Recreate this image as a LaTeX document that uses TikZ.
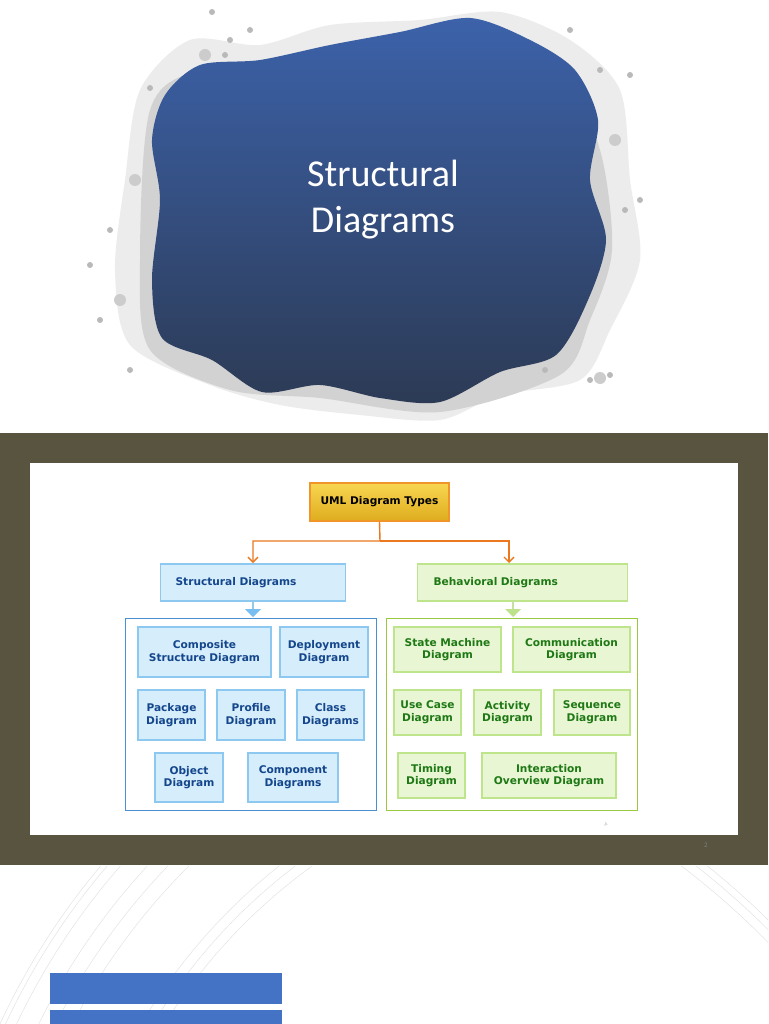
\documentclass[tikz,border=0pt]{standalone}
\usepackage{fontspec}
\usetikzlibrary{arrows.meta}
\setmainfont{DejaVu Sans}
\newfontfamily\titlefont{Carlito}
\begin{document}
\begin{tikzpicture}[x=1pt,y=-1pt,
  sbox/.style={draw={rgb,255:red,140;green,200;blue,240},fill={rgb,255:red,214;green,237;blue,252},line width=1.2pt,align=center,font=\bfseries\fontsize{10.6}{12.6}\selectfont,text={rgb,255:red,20;green,70;blue,140},inner sep=0pt},
  gbox/.style={draw={rgb,255:red,190;green,228;blue,140},fill={rgb,255:red,232;green,246;blue,212},line width=1.2pt,align=center,font=\bfseries\fontsize{10.6}{12.6}\selectfont,text={rgb,255:red,30;green,120;blue,20},inner sep=0pt},
  oarr/.style={draw={rgb,255:red,235;green,120;blue,30},line width=1.4pt,-{Straight Barb[length=5pt,width=10pt]}}]
\useasboundingbox (0,0) rectangle (768,1024);
\fill[white] (0,0) rectangle (768,1024);
% splatter
\fill[gray!15] plot[smooth cycle] coordinates{(140,90)(190,40)(260,45)(330,25)(420,20)(500,12)(570,40)(620,90)(630,180)(640,260)(610,330)(580,380)(500,395)(440,420)(360,415)(280,405)(210,385)(130,345)(115,270)(125,180)};
\fill[gray!35] plot[smooth cycle] coordinates{(150,110)(200,70)(330,55)(470,30)(560,70)(600,150)(612,250)(590,320)(560,375)(440,412)(320,398)(230,390)(150,350)(140,260)};
\foreach \p in {(150,88),(230,40),(225,55),(600,70),(630,75),(90,265),(110,230),(625,210),(590,380),(610,375),(100,320),(640,200),(130,370),(570,30),(212,12),(250,30),(545,370)} \fill[gray!55] \p circle (3);
\foreach \p in {(205,55),(120,300),(615,140),(135,180),(600,378)} \fill[gray!40] \p circle (6);
\shade[top color={rgb,255:red,60;green,98;blue,170},bottom color={rgb,255:red,44;green,58;blue,84}]
 plot[smooth cycle] coordinates{(165,95)(200,65)(260,60)(330,45)(400,32)(470,18)(530,40)(575,70)(598,120)(590,180)(606,240)(588,300)(556,355)(500,372)(440,402)(380,398)(320,385)(262,392)(212,360)(162,338)(152,280)(160,200)(152,140)};
\node[font=\titlefont\fontsize{38}{46}\selectfont,text=white,align=center] (title) at (383,200) {Structural\\Diagrams};
% band
\fill[fill={rgb,255:red,88;green,84;blue,64}] (0,433) rectangle (768,865);
\fill[white] (30,463) rectangle (738,835);
\node[font=\fontsize{6}{7}\selectfont,text=gray] (pg) at (706,845) {2};
\node[font=\fontsize{4}{5}\selectfont,text=gray!70] (mk) at (606,824) {.Jı.};
% UML
\node[draw={rgb,255:red,240;green,150;blue,40},line width=1.2pt,top color={rgb,255:red,248;green,214;blue,80},bottom color={rgb,255:red,222;green,172;blue,30},minimum width=139pt,minimum height=38pt,font=\bfseries\fontsize{10.6}{12.6}\selectfont,text=black,inner sep=0pt] (uml) at (379.5,502) {UML Diagram Types};
\node[sbox,minimum width=185pt,minimum height=37pt,anchor=west,text width=175pt,align=left] (sd) at (160,582.5) {\hspace*{10pt}Structural Diagrams};
\node[gbox,minimum width=210pt,minimum height=37pt,anchor=west,text width=200pt,align=left] (bd) at (417,582.5) {\hspace*{11pt}Behavioral Diagrams};
\coordinate (j) at (380,541);
\draw[oarr] (uml.south) -- (j) -| (253,563);
\draw[oarr] (j) -| (509,563);
\draw[draw={rgb,255:red,150;green,200;blue,235},line width=1.3pt] (253,601) -- (253,610);
\fill[fill={rgb,255:red,120;green,190;blue,240}] (245,609) -- (261,609) -- (253,617) -- cycle;
\draw[draw={rgb,255:red,195;green,225;blue,160},line width=1.3pt] (513,601) -- (513,610);
\fill[fill={rgb,255:red,190;green,225;blue,140}] (505,609) -- (521,609) -- (513,617) -- cycle;
\draw[draw={rgb,255:red,74;green,144;blue,208},line width=1pt] (125,618) rectangle (376,810);
\draw[draw={rgb,255:red,154;green,200;blue,64},line width=1pt] (386,618) rectangle (637,810);
\newcommand\bx[6]{\node[#1,minimum width=#4-#3,minimum height=#6-#5] at ({(#3+#4)/2},{(#5+#6)/2}) {#2};}
\bx{sbox}{Composite\\Structure Diagram}{138}{271}{627}{677}
\bx{sbox}{Deployment\\Diagram}{280}{368}{627}{677}
\bx{sbox}{Package\\Diagram}{138}{205}{690}{740}
\bx{sbox}{Profile\\Diagram}{217}{285}{690}{740}
\bx{sbox}{Class\\Diagrams}{297}{364}{690}{740}
\bx{sbox}{Object\\Diagram}{155}{223}{753}{802}
\bx{sbox}{Component\\Diagrams}{248}{338}{753}{802}
\bx{gbox}{State Machine\\Diagram}{394}{501}{627}{672}
\bx{gbox}{Communication\\Diagram}{513}{630}{627}{672}
\bx{gbox}{Use Case\\Diagram}{394}{461}{690}{735}
\bx{gbox}{Activity\\Diagram}{474}{541}{690}{735}
\bx{gbox}{Sequence\\Diagram}{554}{630}{690}{735}
\bx{gbox}{Timing\\Diagram}{398}{465}{753}{798}
\bx{gbox}{Interaction\\Overview Diagram}{482}{616}{753}{798}
% arcs
\begin{scope}
\clip (0,866) rectangle (768,1024);
\foreach \r in {560,570,580,640,655,670,690,700,705} \draw[gray!25,line width=.4pt] (640,1320) circle (\r);
\end{scope}
\begin{scope}
\clip (660,866) rectangle (768,1024);
\foreach \r in {796,805,812} \draw[gray!25,line width=.4pt] (200,1500) circle (\r);
\end{scope}
\fill[fill={rgb,255:red,68;green,114;blue,196}] (50,973) rectangle (282,1004);
\fill[fill={rgb,255:red,68;green,114;blue,196}] (50,1010) rectangle (282,1024);
\end{tikzpicture}
\end{document}
